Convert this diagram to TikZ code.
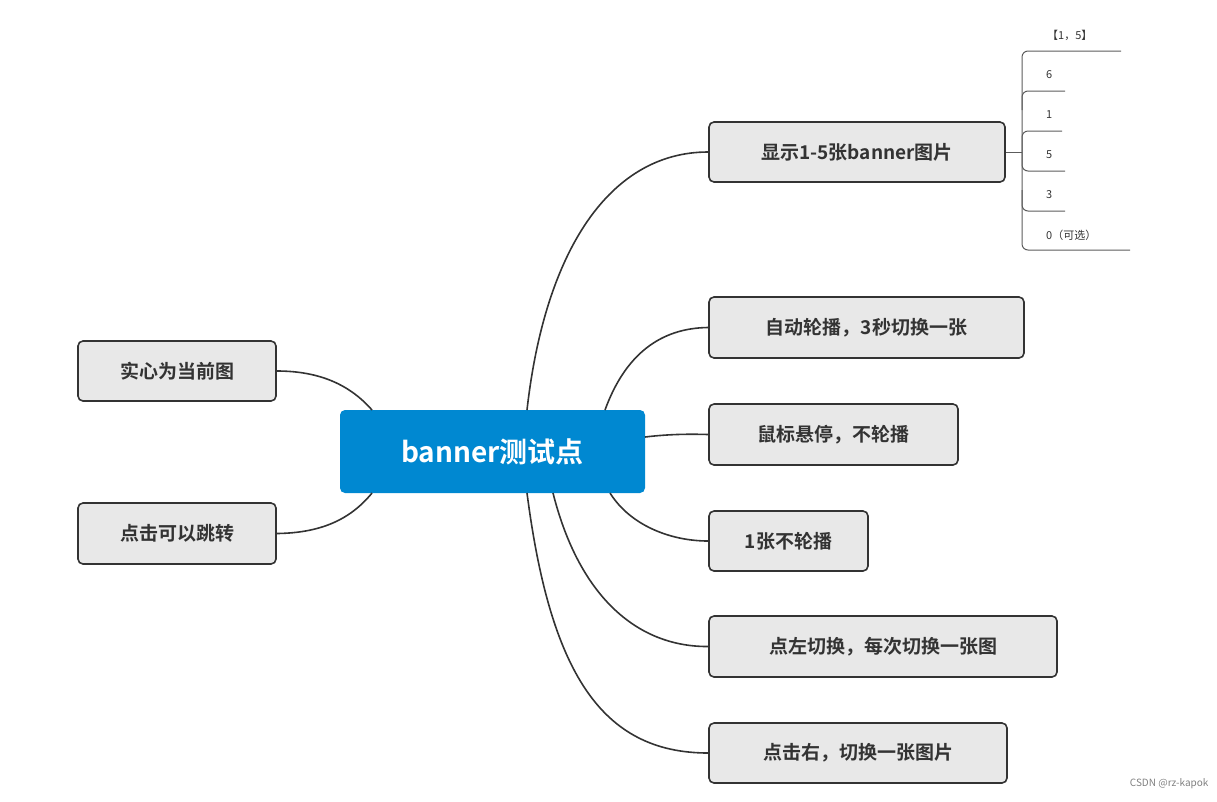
\documentclass[tikz,border=0pt]{standalone}
\usepackage{fontspec}
\setmainfont{Noto Sans CJK SC}
\newfontfamily\cjkb{Noto Sans CJK SC Bold}
\usetikzlibrary{calc}
\definecolor{boxfill}{HTML}{E8E8E8}
\definecolor{edge}{HTML}{333333}
\definecolor{blueC}{HTML}{0088D1}
\tikzset{
 topic/.style={draw=edge,line width=1.6pt,fill=boxfill,rounded corners=5pt,inner sep=0pt,font=\cjkb\fontsize{19}{22}\selectfont,text=edge},
 conn/.style={draw=edge,line width=1.6pt},
 thin/.style={draw=edge!80,line width=1pt},
 small/.style={font=\fontsize{11}{13}\selectfont,text=edge,inner sep=0pt,anchor=west}
}
\begin{document}
\begin{tikzpicture}[x=1pt,y=-1pt]
\useasboundingbox (0,0) rectangle (1217,801);
\node[fill=blueC,rounded corners=5pt,minimum width=305pt,minimum height=83pt,inner sep=0pt,text=white,font=\cjkb\fontsize{28}{32}\selectfont] (c) at (492.5,451.5) {banner测试点};
\node[topic,minimum width=296pt,minimum height=60pt] (a1) at (857,152) {显示1-5张banner图片};
\node[topic,minimum width=315pt,minimum height=61pt] (a2) at (866.5,327.5) {自动轮播，3秒切换一张};
\node[topic,minimum width=249pt,minimum height=61pt] (a3) at (833.5,434.5) {鼠标悬停，不轮播};
\node[topic,minimum width=159pt,minimum height=60pt] (a4) at (788.5,541) {1张不轮播};
\node[topic,minimum width=348pt,minimum height=61pt] (a5) at (883,646.5) {点左切换，每次切换一张图};
\node[topic,minimum width=298pt,minimum height=60pt] (a6) at (858,753) {点击右，切换一张图片};
\node[topic,minimum width=198pt,minimum height=60pt] (b1) at (177,371) {实心为当前图};
\node[topic,minimum width=198pt,minimum height=61pt] (b2) at (177,533.5) {点击可以跳转};
% connectors
\coordinate (t1) at (527,410); \coordinate (t2) at (605,410); \coordinate (t3) at (645,437);
\coordinate (u4) at (610,493); \coordinate (u5) at (553,493); \coordinate (u6) at (527,493);
\coordinate (l1) at (372,410); \coordinate (l2) at (372,493);
\begin{scope}[on background layer/.try]
\draw[conn] (t1) .. controls (545,250) and (610,152) .. (a1.west);
\draw[conn] (t2) .. controls (625,355) and (660,328) .. (a2.west);
\draw[conn] (t3) .. controls (670,434) and (690,434) .. (a3.west);
\draw[conn] (u4) .. controls (630,525) and (670,541) .. (a4.west);
\draw[conn] (u5) .. controls (580,600) and (640,647) .. (a5.west);
\draw[conn] (u6) .. controls (550,670) and (600,753) .. (a6.west);
\draw[conn] (l1) .. controls (350,385) and (320,371) .. (b1.east);
\draw[conn] (l2) .. controls (350,520) and (320,533) .. (b2.east);
\end{scope}
% sub list
\coordinate (s0) at (1022,152);
\draw[thin] (a1.east) -- (s0);
\draw[thin,rounded corners=6pt] (1121,51) -- (1022,51) -- (1022,250) -- (1130,250);
\draw[thin,rounded corners=6pt] (1065,91) -- (1022,91) -- (1022,110);
\draw[thin,rounded corners=6pt] (1062,131) -- (1022,131) -- (1022,150);
\draw[thin,rounded corners=6pt] (1022,150) -- (1022,171) -- (1065,171);
\draw[thin,rounded corners=6pt] (1022,190) -- (1022,211) -- (1065,211);
\node[small] (n0) at (1047,35) {【1，5】};
\node[small] (n1) at (1046,75) {6};
\node[small] (n2) at (1046,115) {1};
\node[small] (n3) at (1046,155) {5};
\node[small] (n4) at (1046,195) {3};
\node[small] (n5) at (1046,235) {0（可选）};
\node[font=\fontsize{10}{12}\selectfont,text=gray,anchor=east] (wm) at (1212,784) {CSDN @rz-kapok};
\end{tikzpicture}
\end{document}
